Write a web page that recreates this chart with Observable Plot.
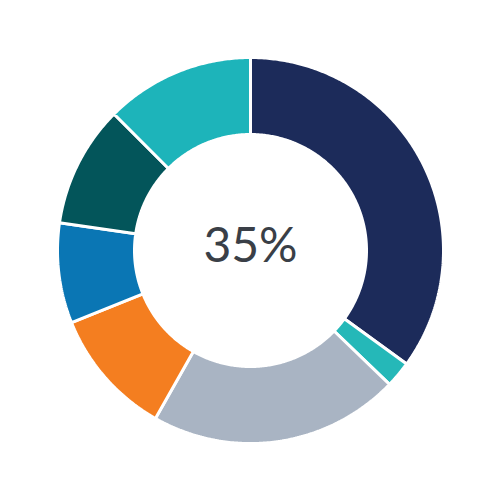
<!DOCTYPE html>
<html>
<head>
<meta charset="utf-8">
<script src="https://cdn.jsdelivr.net/npm/d3@7"></script>
<script src="https://cdn.jsdelivr.net/npm/@observablehq/plot@0.6"></script>
<style>
  html, body { margin: 0; padding: 0; background: #fff; }
</style>
</head>
<body>
<div id="chart"></div>
<script>
const categories = ["A", "B", "C", "D", "E", "F", "G"];
const values = [35, 2.2, 21, 10.7, 8.4, 10.2, 12.5];
const colors = ["#1c2b5a", "#25b8b8", "#a9b4c3", "#f47e20", "#0a76b4", "#03555a", "#1db4ba"];
const centerLabel = "35%";

const R_OUT = 193, R_IN = 116;
const pie = d3.pie().sort(null).value(d => d.value);
const arcs = pie(categories.map((c, i) => ({category: c, value: values[i]})));

// Build polygon outlines for each slice from the pie angles
const pts = [];
arcs.forEach(a => {
  const n = Math.max(8, Math.ceil((a.endAngle - a.startAngle) / 0.01));
  const ring = [];
  for (let k = 0; k <= n; k++) {
    const t = a.startAngle + (a.endAngle - a.startAngle) * k / n;
    ring.push([R_OUT * Math.sin(t), -R_OUT * Math.cos(t)]);
  }
  for (let k = n; k >= 0; k--) {
    const t = a.startAngle + (a.endAngle - a.startAngle) * k / n;
    ring.push([R_IN * Math.sin(t), -R_IN * Math.cos(t)]);
  }
  ring.push(ring[0]);
  ring.forEach(([x, y]) => pts.push({category: a.data.category, x, y}));
});

const chart = Plot.plot({
  width: 500,
  height: 500,
  margin: 0,
  x: {domain: [-250, 250], axis: null},
  y: {domain: [-250, 250], range: [0, 500], axis: null},
  color: {domain: categories, range: colors},
  marks: [
    Plot.line(pts, {x: "x", y: "y", z: "category", fill: "category", stroke: "white", strokeWidth: 3, curve: "linear", strokeLinejoin: "miter"}),
    Plot.text([centerLabel], {x: () => 0, y: () => -4, text: d => d, fontSize: 48, fontWeight: 400, fill: "#3a3f47", fontFamily: "Lato, 'Open Sans', sans-serif"})
  ]
});
document.getElementById("chart").appendChild(chart);
</script>
</body>
</html>
